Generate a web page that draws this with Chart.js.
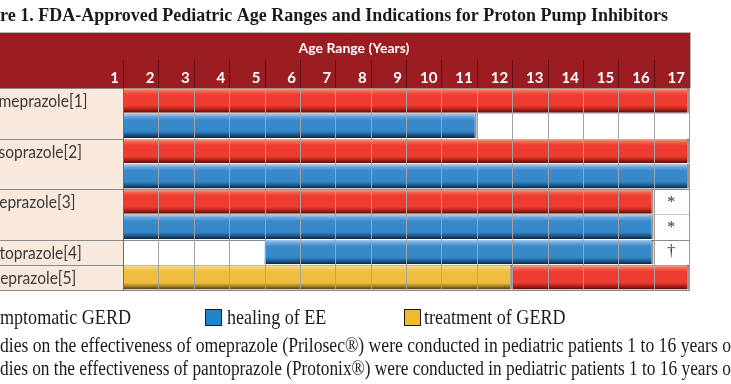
<!DOCTYPE html>
<html>
<head>
<meta charset="utf-8">
<script src="https://cdn.jsdelivr.net/npm/chart.js@4.4.1/dist/chart.umd.min.js"></script>
<style>
  html, body { margin: 0; padding: 0; background: #fff; }
  #wrap { width: 731px; height: 384px; }
</style>
</head>
<body>
<div id="wrap"><canvas id="ppi-chart" width="731" height="384"></canvas></div>
<script>
"use strict";

const title = 'Figure 1. FDA-Approved Pediatric Age Ranges and Indications for Proton Pump Inhibitors';
const axisTitle = 'Age Range (Years)';
const ages = [1, 2, 3, 4, 5, 6, 7, 8, 9, 10, 11, 12, 13, 14, 15, 16, 17];
const drugs = ['Esomeprazole[1]', 'Lansoprazole[2]', 'Omeprazole[3]', 'Pantoprazole[4]', 'Rabeprazole[5]'];

// one entry per table sub-row
const rowKeys = ['eso-a', 'eso-b', 'lan-a', 'lan-b', 'ome-a', 'ome-b', 'pan-a', 'rab-a'];
const rowDrug = [0, 0, 1, 1, 2, 2, 3, 4];
const symptomatic = [[1, 17], null, [1, 17], null, [1, 16], null, null, [12, 17]];
const healing = [null, [1, 11], null, [1, 17], null, [1, 16], [5, 16], null];
const treatment = [null, null, null, null, null, null, null, [1, 12]];
const rowNotes = ['', '', '', '', '*', '*', '\u2020', ''];

const legendLabels = ['symptomatic GERD', 'healing of EE', 'treatment of GERD'];
const footnotes = [
    '*Studies on the effectiveness of omeprazole (Prilosec\u00AE) were conducted in pediatric patients 1 to 16 years old.',
    '\u2020Studies on the effectiveness of pantoprazole (Protonix\u00AE) were conducted in pediatric patients 1 to 16 years old.'
];

const redStops = [[0, '#f6a692'], [0.12, '#f2644f'], [0.26, '#ee3c30'], [0.72, '#ee3c30'], [0.86, '#b0201a'], [1, '#5a0a06']];
const blueStops = [[0, '#aacaea'], [0.12, '#6aa5da'], [0.26, '#3a8acb'], [0.72, '#3588c8'], [0.86, '#1e5a8c'], [1, '#0a253d']];
const yellowStops = [[0, '#f8dd9a'], [0.12, '#f4cd66'], [0.26, '#f1be3e'], [0.72, '#f0bc3b'], [0.86, '#a5822a'], [1, '#4c3a0c']];
const legendColors = ['#e8372b', '#2385c8', '#f1b932'];

const serif = '"Liberation Serif", "Times New Roman", serif';
const sans = 'Lato, "Noto Sans", sans-serif';

function barFill(context, stops) {
    const chart = context.chart;
    const yScale = chart.scales.y;
    if (!yScale || context.dataIndex === undefined) return stops[2][1];
    const band = (yScale.bottom - yScale.top) / rowKeys.length;
    const h = band * 0.96;
    const yc = yScale.getPixelForValue(context.dataIndex);
    if (!isFinite(yc) || !isFinite(h) || h <= 0) return stops[2][1];
    const g = chart.ctx.createLinearGradient(0, yc - h / 2, 0, yc + h / 2);
    stops.forEach(s => g.addColorStop(s[0], s[1]));
    return g;
}

// draws `full` squeezed so that the part starting at `from` (up to `to`) spans x0..x1
function fitText(c, full, from, to, x0, x1, y, font, color) {
    c.save();
    c.font = font;
    c.fillStyle = color;
    const start = full.indexOf(from);
    const end = to ? full.indexOf(to, start) + to.length : full.length;
    const pre = c.measureText(full.slice(0, start)).width;
    const sx = (x1 - x0) / c.measureText(full.slice(start, end)).width;
    c.translate(x0 - pre * sx, y);
    c.scale(sx, 1);
    c.textAlign = 'left';
    c.textBaseline = 'alphabetic';
    c.fillText(full, 0, 0);
    c.restore();
    return sx;
}

function hline(c, x0, x1, y, color) {
    c.strokeStyle = color;
    c.beginPath();
    c.moveTo(x0, Math.round(y) + 0.5);
    c.lineTo(x1, Math.round(y) + 0.5);
    c.stroke();
}

function vline(c, x, y0, y1, color) {
    c.strokeStyle = color;
    c.beginPath();
    c.moveTo(Math.round(x) + 0.5, y0);
    c.lineTo(Math.round(x) + 0.5, y1);
    c.stroke();
}

const tablePlugin = {
    id: 'tablePlugin',
    beforeDraw(chart) {
        const c = chart.ctx;
        const area = chart.chartArea;
        const xs = chart.scales.x;
        const band = (area.bottom - area.top) / rowKeys.length;
        c.save();
        c.fillStyle = '#fff';
        c.fillRect(0, 0, chart.width, chart.height);

        fitText(c, title, 're 1.', null, 0, 668, 21, 'bold 18px ' + serif, '#1a1a1a');

        // header band
        const right = xs.getPixelForValue(17) + 1;
        c.fillStyle = '#9b1c21';
        c.fillRect(0, 33, right, area.top - 33);
        c.lineWidth = 1;
        hline(c, 0, right + 1, 32, '#b5b5b5');
        vline(c, right, 32, area.top, '#b5b5b5');

        c.font = 'bold 14px ' + sans;
        c.fillStyle = '#ffffff';
        c.textAlign = 'center';
        c.textBaseline = 'alphabetic';
        c.fillText(axisTitle, 354, 53);

        // label column
        c.fillStyle = '#f9e9dd';
        c.fillRect(0, area.top, area.left, area.bottom - area.top);

        // row lines (under the bars)
        for (let i = 0; i <= rowKeys.length; i++) {
            const y = area.top + i * band;
            const groupEdge = i === 0 || i === rowKeys.length || rowDrug[i] !== rowDrug[i - 1];
            if (groupEdge) {
                hline(c, 0, right, y, '#8a8a8a');
            } else {
                hline(c, area.left, right, y, '#c8c8c8');
            }
        }

        // drug labels
        c.font = '17px ' + sans;
        const sx = 89 / c.measureText('meprazole[1]').width;
        const x0 = 87.5 - c.measureText(drugs[0]).width * sx;
        c.fillStyle = '#3a3a3a';
        c.textAlign = 'left';
        drugs.forEach((name, d) => {
            const first = rowDrug.indexOf(d);
            const y = area.top + first * band + band / 2 + 6.5;
            c.save();
            c.translate(x0, y);
            c.scale(sx, 1);
            c.fillText(name, 0, 0);
            c.restore();
        });
        c.restore();
    },
    afterDatasetsDraw(chart) {
        const c = chart.ctx;
        const area = chart.chartArea;
        const xs = chart.scales.x;
        const band = (area.bottom - area.top) / rowKeys.length;
        c.save();
        c.lineWidth = 1;

        // vertical grid over bars
        ages.forEach(a => {
            const x = xs.getPixelForValue(a);
            const color = a === 1 ? '#6e6e6e' : (a === 17 ? '#9a9a9a' : '#a3a3a3');
            vline(c, x, area.top, area.bottom + 1, color);
            if (a < 17) {
                vline(c, x, 60, area.top, a === 5 ? '#1c0808' : '#5e1115');
            }
        });

        // header numbers
        c.font = 'bold 15px ' + sans;
        c.fillStyle = '#ffffff';
        c.textAlign = 'right';
        c.textBaseline = 'alphabetic';
        ages.forEach(a => {
            c.fillText(String(a), xs.getPixelForValue(a) - 4, 82.5);
        });

        // notes in empty cells
        c.font = '16px ' + serif;
        c.fillStyle = '#333';
        c.textAlign = 'center';
        c.textBaseline = 'middle';
        const noteX = (xs.getPixelForValue(16) + xs.getPixelForValue(17)) / 2;
        rowNotes.forEach((n, i) => {
            if (n) c.fillText(n, noteX, area.top + i * band + band / 2 + (n === '*' ? 1 : 0));
        });

        // legend
        const lf = '21px ' + serif;
        const lsx = fitText(c, legendLabels[0], 'mptomatic', null, 0, 131, 324, lf, '#1a1a1a');
        c.font = lf;
        const boxX = [131 - c.measureText(legendLabels[0]).width * lsx - 21, 205, 404];
        const textX = [null, 227, 424];
        legendLabels.forEach((lab, i) => {
            c.fillStyle = legendColors[i];
            c.fillRect(boxX[i], 309, 17, 17);
            c.strokeStyle = '#1a1a1a';
            c.strokeRect(boxX[i] + 0.5, 309.5, 16, 16);
            if (i > 0) {
                c.save();
                c.font = lf;
                c.fillStyle = '#1a1a1a';
                c.textAlign = 'left';
                c.textBaseline = 'alphabetic';
                c.translate(textX[i], 324);
                c.scale(lsx, 1);
                c.fillText(lab, 0, 0);
                c.restore();
            }
        });

        // footnotes
        fitText(c, footnotes[0], 'dies on', 'years o', 0, 731, 352, '20px ' + serif, '#1a1a1a');
        fitText(c, footnotes[1], 'dies on', 'years o', 0, 731, 375, '20px ' + serif, '#1a1a1a');
        c.restore();
    }
};

function renderChart() {
    const ctx = document.getElementById('ppi-chart').getContext('2d');
    const barStyle = {
        borderSkipped: false,
        borderWidth: { left: 0, top: 0, bottom: 0, right: 2 },
        borderColor: 'rgba(40, 10, 5, 0.45)'
    };
    new Chart(ctx, {
        type: 'bar',
        data: {
            labels: rowKeys,
            datasets: [
                Object.assign({ label: legendLabels[0], data: symptomatic, backgroundColor: c => barFill(c, redStops) }, barStyle),
                Object.assign({ label: legendLabels[1], data: healing, backgroundColor: c => barFill(c, blueStops) }, barStyle),
                Object.assign({ label: legendLabels[2], data: treatment, backgroundColor: c => barFill(c, yellowStops) }, barStyle)
            ]
        },
        options: {
            indexAxis: 'y',
            responsive: false,
            animation: false,
            layout: { padding: { left: 123, right: 42, top: 88, bottom: 94 } },
            datasets: {
                bar: { grouped: false, barPercentage: 0.96, categoryPercentage: 1 }
            },
            plugins: {
                legend: { display: false },
                tooltip: { enabled: false },
                title: { display: false }
            },
            scales: {
                x: { type: 'linear', min: 1, max: 17, display: false },
                y: { display: false }
            }
        },
        plugins: [tablePlugin]
    });
}

renderChart();
</script>
</body>
</html>
